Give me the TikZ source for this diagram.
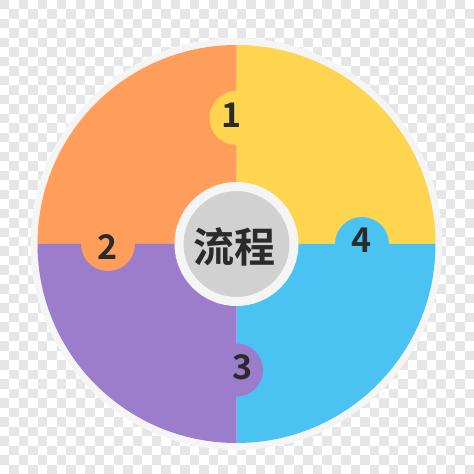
\documentclass[tikz,border=0pt]{standalone}
\usepackage{fontspec}
\newfontfamily\cjk{Noto Sans CJK SC}[BoldFont={Noto Sans CJK SC Bold}]
\definecolor{cOrange}{HTML}{FF9E5B}
\definecolor{cYellow}{HTML}{FFD54F}
\definecolor{cPurple}{HTML}{9B7DCB}
\definecolor{cBlue}{HTML}{4AC3F3}
\definecolor{cGray}{HTML}{D1D1D1}
\definecolor{cRing}{HTML}{F5F5F5}
\definecolor{cCheck}{HTML}{E6E6E6}
\definecolor{cText}{HTML}{2A2A2A}
\tikzset{
  numlabel/.style={inner sep=0pt, text=cText, font=\cjk\bfseries\fontsize{34}{34}\selectfont},
  centerlabel/.style={circle, fill=cGray, draw=cRing, line width=9pt, minimum size=115pt, inner sep=0pt},
  checkcell/.style={fill=cCheck}
}
\begin{document}
\begin{tikzpicture}[x=1pt,y=1pt]
\useasboundingbox (0,0) rectangle (474,474);
\fill[white] (0,0) rectangle (474,474);
\foreach \i in {0,2,...,48}{
  \foreach \j in {1,3,...,49}{
    \path[checkcell] ({\i*9.48},{\j*9.48}) rectangle ++(9.48,9.48);
    \path[checkcell] ({(\i+1)*9.48},{(\j-1)*9.48}) rectangle ++(9.48,9.48);
  }
}
\coordinate (C) at (236.5,230);
% outer ring
\fill[cRing] (C) circle (206pt);
% quadrants
\fill[cOrange] (C) -- ++(-199pt,0) arc[start angle=180,end angle=90,radius=199pt] -- cycle;
\fill[cYellow] (C) -- ++(0,199pt) arc[start angle=90,end angle=0,radius=199pt] -- cycle;
\fill[cBlue] (C) -- ++(199pt,0) arc[start angle=0,end angle=-90,radius=199pt] -- cycle;
\fill[cPurple] (C) -- ++(0,-199pt) arc[start angle=270,end angle=180,radius=199pt] -- cycle;
% tabs
\fill[cYellow] (236.5,356) circle (27pt);
\fill[cOrange] (108,230) circle (27pt);
\fill[cPurple] (236.5,104) circle (26.5pt);
\fill[cBlue] (362,230) circle (27pt);
% labels
\node[numlabel] (n1) at (231.5,358.5) {1};
\node[numlabel] (n2) at (108,226.5) {2};
\node[numlabel] (n3) at (242.5,106.5) {3};
\node[numlabel] (n4) at (362,233.5) {4};
\node[centerlabel] (center) at (C) {};
\node[inner sep=0pt, text=cText, font=\cjk\bfseries\fontsize{41}{41}\selectfont] (title) at (234.5,227) {流程};
\end{tikzpicture}
\end{document}
